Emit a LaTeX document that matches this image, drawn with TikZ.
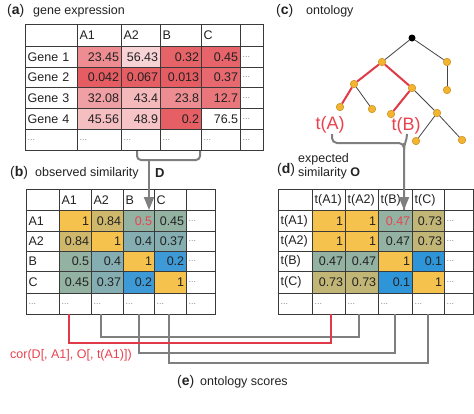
\documentclass[tikz,border=0pt]{standalone}
\usepackage{fontspec}
\setmainfont{Liberation Sans}
\usetikzlibrary{arrows.meta}
\definecolor{gridc}{HTML}{3A3A3A}
\definecolor{txt}{HTML}{222222}
\definecolor{rbase}{HTML}{E55C62}
\definecolor{yel}{HTML}{F6C24E}
\definecolor{olv}{HTML}{CFB86C}
\definecolor{tgA}{HTML}{93B2A2}
\definecolor{tgB}{HTML}{84AEB1}
\definecolor{blu}{HTML}{3E9AD6}
\definecolor{khk}{HTML}{C2B677}
\definecolor{blu2}{HTML}{2E95D9}
\definecolor{redt}{HTML}{E8434F}
\definecolor{redl}{HTML}{E03A48}
\definecolor{gryl}{HTML}{7F7F7F}
\definecolor{nodey}{HTML}{F3B531}
\definecolor{nodeo}{HTML}{C88A17}
\definecolor{dotc}{HTML}{8A8A8A}
\definecolor{edgec}{HTML}{444444}
\newcommand\tdots{{\color{dotc}\fontsize{9}{9}\selectfont...}}
\newcommand\tcell[7]{%
  \pgfmathsetmacro\tcw{#4-#2}%
  \pgfmathsetmacro\tch{#5-#3}%
  \pgfmathsetmacro\tctw{#4-#2-4.5}%
  \node[cellst,#6,minimum width=\tcw pt,minimum height=\tch pt,text width=\tctw pt,anchor=north west] (#1) at (#2,#3) {#7};}
\tikzset{
  cellst/.style={draw=gridc, line width=0.8pt, inner xsep=2.25pt, inner ysep=0pt,
    font=\fontsize{12.5}{13}\selectfont, text=txt},
  tnode/.style={circle, fill=nodey, draw=nodeo, line width=0.5pt, minimum size=7.5pt, inner sep=0pt},
  rootnode/.style={circle, fill=black, minimum size=7pt, inner sep=0pt},
  tedge/.style={draw=edgec, line width=0.8pt},
  redge/.style={draw=redl, line width=2pt},
  brk/.style={draw=gryl, line width=2pt},
  brkarrow/.style={brk, -{Triangle[width=10pt,length=13pt]}},
  conn/.style={draw=gryl, line width=2pt},
  connred/.style={draw=redl, line width=2pt},
  lab/.style={inner sep=0pt, anchor=base west, text=txt},
  panel/.style={lab, font=\fontsize{14}{14}\selectfont},
  ptext/.style={lab, font=\fontsize{12.5}{13}\selectfont},
}
\begin{document}
\begin{tikzpicture}[x=1pt,y=-1pt]
\useasboundingbox (0,0) rectangle (474,413);
\fill[white] (0,0) rectangle (474,413);

% ---------- (a) gene expression ----------
\node[panel] (la) at (7,14) {(\textbf{a})};
\node[ptext] (lat) at (33,14) {gene expression};
\foreach \c/\xa/\xb/\h in {0/25/77/,1/77/121/A1,2/121/160/A2,3/160/201/B,4/201/240/C,5/240/263/}
  {\tcell{a-0-\c}{\xa}{24}{\xb}{46}{align=left}{\h}}
\foreach \r/\ya/\yb/\lab/\va/\pa/\vb/\pb/\vc/\pc/\vd/\pd in {
  1/46/67/Gene 1/23.45/70/56.43/27/0.32/96/0.45/95,
  2/67/87/Gene 2/0.042/100/0.067/99/0.013/100/0.37/92,
  3/87/108/Gene 3/32.08/58/43.4/43/23.8/70/12.7/84,
  4/108/129/Gene 4/45.56/40/48.9/36/0.2/98/76.5/0}{
  \tcell{a-\r-0}{25}{\ya}{77}{\yb}{align=left}{\lab}
  \tcell{a-\r-1}{77}{\ya}{121}{\yb}{align=right,fill=rbase!\pa!white}{\va}
  \tcell{a-\r-2}{121}{\ya}{160}{\yb}{align=right,fill=rbase!\pb!white}{\vb}
  \tcell{a-\r-3}{160}{\ya}{201}{\yb}{align=right,fill=rbase!\pc!white}{\vc}
  \tcell{a-\r-4}{201}{\ya}{240}{\yb}{align=right,fill=rbase!\pd!white}{\vd}
  \tcell{a-\r-5}{240}{\ya}{263}{\yb}{align=left}{\tdots}
}
\foreach \c/\xa/\xb in {0/25/77,1/77/121,2/121/160,3/160/201,4/201/240,5/240/263}
  {\tcell{a-5-\c}{\xa}{129}{\xb}{150}{align=left}{\tdots}}

% ---------- (b) observed similarity ----------
\node[panel] (lb) at (10,176) {(\textbf{b})};
\node[ptext] (lbt) at (35,176) {observed similarity};
\node[lab, font=\fontsize{13}{13}\selectfont\bfseries] (lD) at (155,177) {D};
\foreach \c/\xa/\xb/\h in {0/26/59/,1/59/91/A1,2/91/123/A2,3/123/154/B,4/154/186/C,5/186/215/}
  {\tcell{b-0-\c}{\xa}{189}{\xb}{210}{align=left}{\h}}
\foreach \r/\ya/\yb/\lab/\va/\ca/\vb/\cb/\vc/\cc/\vd/\cd in {
  1/210/231/A1/1/yel/0.84/olv/\textcolor{redt}{0.5}/tgA/0.45/tgA,
  2/231/251/A2/0.84/olv/1/yel/0.4/tgB/0.37/tgB,
  3/251/271/B/0.5/tgA/0.4/tgB/1/yel/0.2/blu,
  4/271/293/C/0.45/tgA/0.37/tgB/0.2/blu/1/yel}{
  \tcell{b-\r-0}{26}{\ya}{59}{\yb}{align=left}{\lab}
  \tcell{b-\r-1}{59}{\ya}{91}{\yb}{align=right,fill=\ca}{\va}
  \tcell{b-\r-2}{91}{\ya}{123}{\yb}{align=right,fill=\cb}{\vb}
  \tcell{b-\r-3}{123}{\ya}{154}{\yb}{align=right,fill=\cc}{\vc}
  \tcell{b-\r-4}{154}{\ya}{186}{\yb}{align=right,fill=\cd}{\vd}
  \tcell{b-\r-5}{186}{\ya}{215}{\yb}{align=left}{\tdots}
}
\foreach \c/\xa/\xb in {0/26/59,1/59/91,2/91/123,3/123/154,4/154/186,5/186/215}
  {\tcell{b-5-\c}{\xa}{293}{\xb}{314}{align=left}{\tdots}}

% ---------- (c) ontology ----------
\node[panel] (lc) at (276,14) {(\textbf{c})};
\node[ptext] (lct) at (306,14) {ontology};
\node[rootnode] (n0) at (412,38) {};
\node[tnode] (n1) at (382,62) {};
\node[tnode] (n2) at (447,62) {};
\node[tnode] (n3) at (354,84) {};
\node[tnode] (n4) at (412,88) {};
\node[tnode] (n5) at (447,90) {};
\node[tnode] (n6) at (340,107) {};
\node[tnode] (n7) at (372,109) {};
\node[tnode] (n8) at (391,114) {};
\node[tnode] (n9) at (437,113) {};
\node[tnode] (n10) at (416,141) {};
\node[tnode] (n11) at (462,140) {};
\draw[tedge] (n0) -- (n1);
\draw[tedge] (n0) -- (n2);
\draw[tedge] (n2) -- (n5);
\draw[tedge] (n3) -- (n7);
\draw[tedge] (n4) -- (n9);
\draw[tedge] (n9) -- (n10);
\draw[tedge] (n9) -- (n11);
\draw[redge] (n1) -- (n3);
\draw[redge] (n1) -- (n4);
\draw[redge] (n3) -- (n6);
\draw[redge] (n4) -- (n8);
\node[inner sep=0pt, text=redt, font=\fontsize{18}{18}\selectfont] (tA) at (330,125) {t(A)};
\node[inner sep=0pt, text=redt, font=\fontsize{18}{18}\selectfont] (tB) at (406,126) {t(B)};

% ---------- (d) expected similarity ----------
\node[panel] (ld) at (277,173) {(\textbf{d})};
\node[ptext] (ldt1) at (298,162) {expected};
\node[ptext] (ldt2) at (298,176) {similarity \textbf{O}};
\foreach \c/\xa/\xb/\h in {0/278/312/,1/312/345/t(A1),2/345/378/t(A2),3/378/412/t(B),4/412/444/t(C),5/444/473/}
  {\tcell{d-0-\c}{\xa}{189}{\xb}{210}{align=left}{\h}}
\foreach \r/\ya/\yb/\lab/\va/\ca/\vb/\cb/\vc/\cc/\vd/\cd in {
  1/210/231/t(A1)/1/yel/1/yel/\textcolor{redt}{0.47}/tgA/0.73/khk,
  2/231/251/t(A2)/1/yel/1/yel/0.47/tgA/0.73/khk,
  3/251/271/t(B)/0.47/tgA/0.47/tgA/1/yel/0.1/blu2,
  4/271/293/t(C)/0.73/khk/0.73/khk/0.1/blu2/1/yel}{
  \tcell{d-\r-0}{278}{\ya}{312}{\yb}{align=left}{\lab}
  \tcell{d-\r-1}{312}{\ya}{345}{\yb}{align=right,fill=\ca}{\va}
  \tcell{d-\r-2}{345}{\ya}{378}{\yb}{align=right,fill=\cb}{\vb}
  \tcell{d-\r-3}{378}{\ya}{412}{\yb}{align=right,fill=\cc}{\vc}
  \tcell{d-\r-4}{412}{\ya}{444}{\yb}{align=right,fill=\cd}{\vd}
  \tcell{d-\r-5}{444}{\ya}{473}{\yb}{align=left}{\tdots}
}
\foreach \c/\xa/\xb in {0/278/312,1/312/345,2/345/378,3/378/412,4/412/444,5/444/473}
  {\tcell{d-5-\c}{\xa}{293}{\xb}{314}{align=left}{\tdots}}

% ---------- brackets and arrows ----------
\coordinate (aL) at (137,151);
\coordinate (aR) at (200,151);
\coordinate (aJ) at (149,160);
\coordinate (bTip) at (149,210);
\draw[brk, rounded corners=4pt] (aL) -- (137,160) -- (200,160) -- (aR);
\draw[brkarrow] (aJ) -- (bTip);

\coordinate (cL) at (332,134);
\coordinate (cJ) at (404,143);
\coordinate (cJ2) at (404,150);
\coordinate (dTip) at (404,210);
\draw[brk, rounded corners=5pt] (cL) |- (cJ) -- (dTip);
\draw[brkarrow] (cJ) -- (dTip);
\draw[brk] (407,134) to[out=-90,in=90] (cJ2);

% ---------- (e) ontology scores ----------
\coordinate (g1b) at (101,314); \coordinate (g1d) at (359,314);
\coordinate (g2b) at (139,314); \coordinate (g2d) at (395,314);
\coordinate (g3b) at (169,314); \coordinate (g3d) at (428,314);
\coordinate (rb) at (69,314);   \coordinate (rd) at (331,314);
\draw[conn] (g1b) -- ++(0,23) -| (g1d);
\draw[conn] (g2b) -- ++(0,39) -| (g2d);
\draw[conn] (g3b) -- ++(0,49) -| (g3d);
\draw[connred] (rb) -- ++(0,29) -| (rd);
\node[lab, text=redt, font=\fontsize{12.5}{13}\selectfont] (cor) at (10,358) {cor(D[, A1], O[, t(A1)])};
\node[panel] (le) at (177,385) {(\textbf{e})};
\node[ptext] (let) at (200,385) {ontology scores};
\end{tikzpicture}
\end{document}
